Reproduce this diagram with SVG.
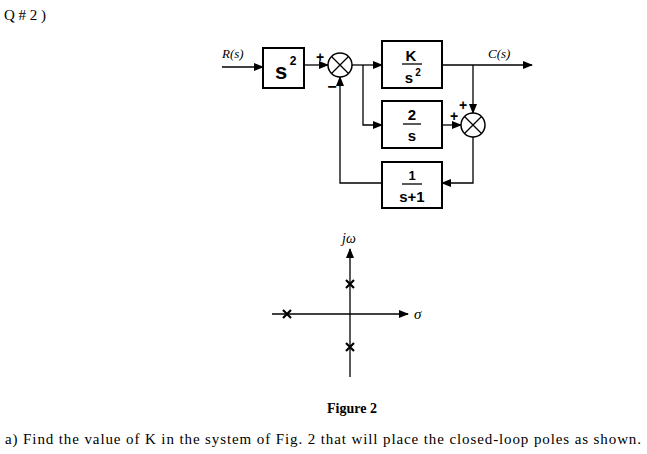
<svg xmlns="http://www.w3.org/2000/svg" width="647" height="454" viewBox="0 0 647 454">
<defs>
<marker id="ar" markerWidth="10" markerHeight="8" refX="9" refY="4" orient="auto" markerUnits="userSpaceOnUse"><path d="M0,0 L10,4 L0,8 Z" fill="#000"/></marker>
<style>
.ln{stroke:#000;stroke-width:1.3;fill:none}
.bx{stroke:#000;stroke-width:2;fill:#fff}
.t{font-family:"Liberation Serif",serif;fill:#000}
.h{font-family:"Liberation Sans",sans-serif;font-weight:bold;fill:#000;text-anchor:middle}
.sm{stroke:#000;stroke-width:1.5;fill:#fff}
</style>
</defs>
<rect width="647" height="454" fill="#fff"/>
<text class="t" x="4" y="20" font-size="15">Q # 2 )</text>
<g id="connectors">
<line class="ln" x1="222" y1="67" x2="263" y2="67" marker-end="url(#ar)"/>
<line class="ln" x1="304" y1="65" x2="328" y2="65" marker-end="url(#ar)"/>
<line class="ln" x1="352" y1="65" x2="382" y2="65" marker-end="url(#ar)"/>
<polyline class="ln" points="363,65 363,125 382,125" marker-end="url(#ar)"/>
<line class="ln" x1="442" y1="65" x2="532" y2="65" marker-end="url(#ar)"/>
<line class="ln" x1="473" y1="65" x2="473" y2="113" marker-end="url(#ar)"/>
<line class="ln" x1="442" y1="125" x2="461" y2="125" marker-end="url(#ar)"/>
<polyline class="ln" points="473,137 473,183 442,183" marker-end="url(#ar)"/>
<polyline class="ln" points="382,183 340,183 340,77" marker-end="url(#ar)"/>
</g>
<g id="Rs"><text class="t" x="222" y="58" font-size="13" font-style="italic">R(s)</text></g>
<g id="Cs"><text class="t" x="488" y="58" font-size="13" font-style="italic">C(s)</text></g>
<g id="s2"><rect class="bx" x="263" y="48" width="41" height="40"/><text class="h" x="281" y="79" font-size="22">s</text><text class="h" x="293" y="65" font-size="12">2</text></g>
<g id="sum1"><circle class="sm" cx="340" cy="65" r="12"/><path class="ln" d="M331.5,56.5 L348.5,73.5 M348.5,56.5 L331.5,73.5"/>
<text class="h" x="320" y="62" font-size="14">+</text><text class="h" x="332" y="92" font-size="16">−</text></g>
<g id="K"><rect class="bx" x="382" y="41" width="60" height="47"/><text class="h" x="411" y="61" font-size="15">K</text><line class="ln" x1="402" y1="64" x2="422" y2="64" stroke-width="1.8"/><text class="h" x="409" y="83" font-size="15">s</text><text class="h" x="418" y="76" font-size="10">2</text></g>
<g id="two"><rect class="bx" x="382" y="101" width="60" height="47"/><text class="h" x="412" y="120" font-size="15">2</text><line class="ln" x1="403" y1="124" x2="421" y2="124" stroke-width="1.8"/><text class="h" x="412" y="141" font-size="15">s</text></g>
<g id="fb"><rect class="bx" x="382" y="162" width="60" height="46"/><text class="h" x="412" y="180" font-size="13">1</text><line class="ln" x1="402" y1="184" x2="422" y2="184" stroke-width="1.8"/><text class="h" x="412" y="202" font-size="15">s+1</text></g>
<g id="sum2"><circle class="sm" cx="473" cy="125" r="12"/><path class="ln" d="M464.5,116.5 L481.5,133.5 M481.5,116.5 L464.5,133.5"/>
<text class="h" x="463" y="110" font-size="14">+</text><text class="h" x="454" y="121" font-size="14">+</text></g>
<g id="plane">
<line class="ln" x1="350" y1="377" x2="350" y2="249" marker-end="url(#ar)"/>
<line class="ln" x1="272" y1="314" x2="408" y2="314" marker-end="url(#ar)"/>
<path d="M283,310 L291,318 M291,310 L283,318 M346,280 L354,288 M354,280 L346,288 M346,343 L354,351 M354,343 L346,351" stroke="#000" stroke-width="2.2"/>
<text class="t" x="342" y="243" font-size="14" font-style="italic">jω</text>
<text class="t" x="414" y="319" font-size="15" font-style="italic">σ</text>
</g>
<text class="t" x="352" y="413" font-size="14" font-weight="bold" text-anchor="middle">Figure 2</text>
<text class="t" x="5" y="444" font-size="15" textLength="636" lengthAdjust="spacing">a)   Find the value of K in the system of Fig. 2 that will place the closed-loop poles as shown.</text>
</svg>
